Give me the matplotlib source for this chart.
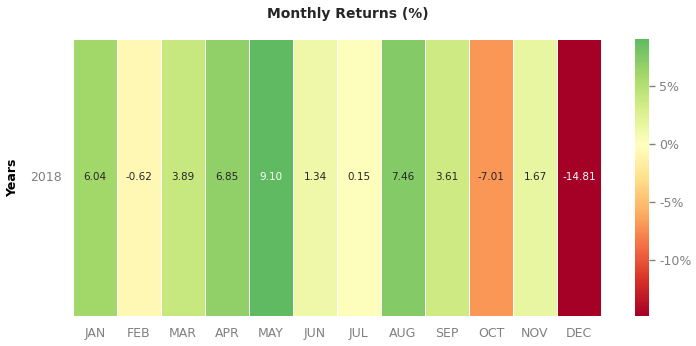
import matplotlib
matplotlib.use("Agg")
import matplotlib.pyplot as plt
import numpy as np
import pandas as pd
import seaborn as sns
from matplotlib.ticker import FuncFormatter

months = ["JAN", "FEB", "MAR", "APR", "MAY", "JUN",
          "JUL", "AUG", "SEP", "OCT", "NOV", "DEC"]
years = ["2018"]
returns_2018 = [6.04, -0.62, 3.89, 6.85, 9.10, 1.34,
                0.15, 7.46, 3.61, -7.01, 1.67, -14.81]

sns.set_style("white")
plt.rcParams["font.family"] = ["DejaVu Sans"]

data = pd.DataFrame([returns_2018], index=years, columns=months)

fig = plt.figure(figsize=(6.96, 3.46), dpi=100)
ax = fig.add_axes([73 / 696, 1 - 316 / 346, 528 / 696, 277 / 346])
cax = fig.add_axes([635 / 696, 1 - 316 / 346, 14 / 696, 277 / 346])

sns.heatmap(data, ax=ax, cbar_ax=cax, cmap="RdYlGn", center=0,
            annot=True, fmt="0.2f", annot_kws={"size": 7.5},
            linewidths=0.5, linecolor="white",
            cbar_kws={"format": FuncFormatter(lambda v, p: f"{v:.0f}%")})

ax.set_xlabel("")
ax.set_ylabel("Years", fontsize=9, fontweight="bold", color="black")
ax.yaxis.set_label_coords((19 - 73) / 528, 0.5)
ax.tick_params(axis="both", length=0, labelsize=9, colors="#808080", pad=8)
ax.set_yticklabels(years, rotation=0)
for t in ax.get_xticklabels():
    t.set_color("#808080")
for t in ax.get_yticklabels():
    t.set_color("#808080")

cax.tick_params(length=4, width=1, colors="#808080", labelsize=9)
cax.set_yticks([5, 0, -5, -10])
for s in cax.spines.values():
    s.set_visible(False)

fig.suptitle("Monthly Returns (%)", fontsize=10, fontweight="bold",
             y=1 - 14 / 346, va="center")

fig.savefig("out.png", dpi=100)
